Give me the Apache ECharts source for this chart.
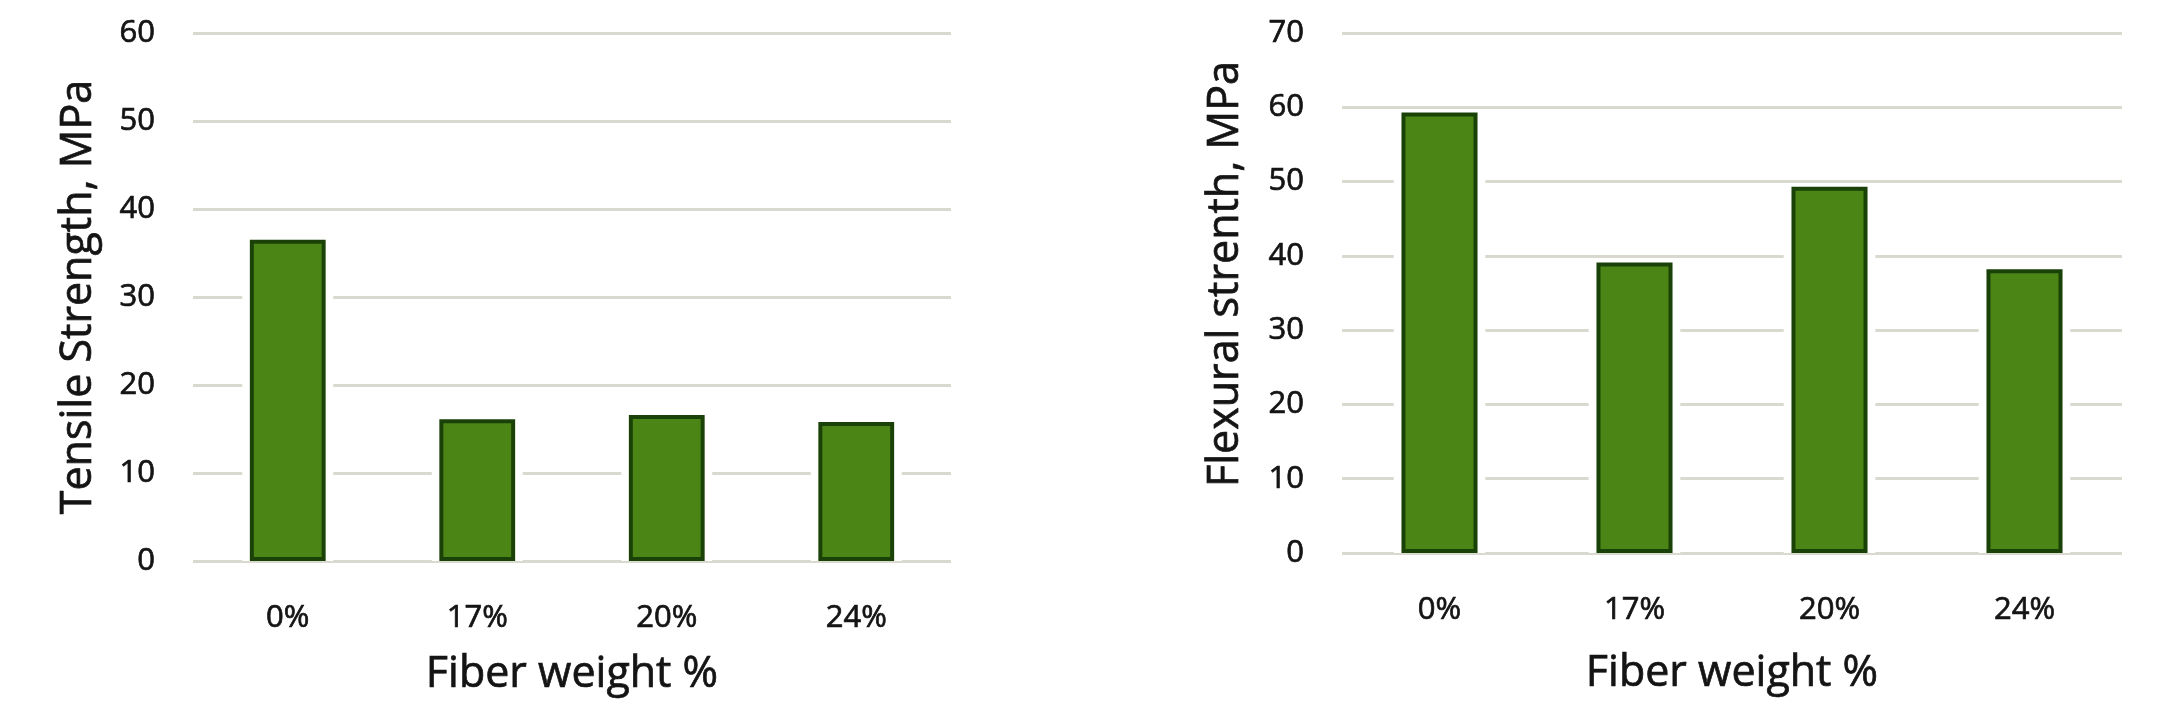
<!DOCTYPE html>
<html lang="en">
<head>
    <meta charset="UTF-8">
    <title>Fiber weight vs strength</title>
    <style>
        html,
        body,
        #chart {
            margin: 0;
            padding: 0;
            width: 100%;
            height: 100%;
            background: #fff;
        }
    </style>
</head>
<body>
    <div id="chart"></div>
    <script src="https://cdn.jsdelivr.net/npm/echarts@6/dist/echarts.min.js"></script>
    <script>
        // data
        var categories = ['0%', '17%', '20%', '24%'];
        var tensileStrength = [36.5, 16.1, 16.6, 15.8];
        var flexuralStrength = [59.3, 39.1, 49.3, 38.2];

        var font = 'Open Sans';
        var textColor = '#141414';
        var gridColor = '#d9d9d0';
        var barFill = '#4a8516';
        var barEdge = '#1a4208';

        // slightly heavier text, the original looks a bit bolder than regular
        function textStyle(size) {
            return {
                fontSize: size,
                fontFamily: font,
                color: textColor,
                textBorderColor: textColor,
                textBorderWidth: 0.7
            };
        }

        function catAxis(gridIndex, hidden) {
            return {
                type: 'category',
                gridIndex: gridIndex,
                data: categories,
                show: !hidden,
                axisLine: { show: false },
                axisTick: { show: false },
                axisLabel: Object.assign({ margin: 42 }, textStyle(31))
            };
        }

        function valAxis(gridIndex, max, name, gap, pad) {
            return {
                type: 'value',
                gridIndex: gridIndex,
                min: 0,
                max: max,
                interval: 10,
                name: name,
                nameLocation: 'middle',
                nameGap: gap,
                nameTextStyle: Object.assign({ padding: pad }, textStyle(43)),
                axisLine: { show: false },
                axisTick: { show: false },
                axisLabel: Object.assign({ margin: 38 }, textStyle(31)),
                splitLine: { lineStyle: { color: gridColor, width: 3 } }
            };
        }

        // white halo behind each bar, like the gap the gridlines leave around the bars
        function haloSeries(axisIdx, values, width) {
            return {
                type: 'bar',
                xAxisIndex: axisIdx,
                yAxisIndex: axisIdx < 2 ? 0 : 1,
                data: values,
                barWidth: width,
                silent: true,
                z: 1,
                itemStyle: { color: '#fff', borderColor: '#fff', borderWidth: 12 }
            };
        }

        function barSeries(axisIdx, values, width) {
            return {
                type: 'bar',
                xAxisIndex: axisIdx,
                yAxisIndex: axisIdx < 2 ? 0 : 1,
                data: values,
                barWidth: width,
                z: 3,
                itemStyle: { color: barFill, borderColor: barEdge, borderWidth: 4 }
            };
        }

        var myChart = echarts.init(document.getElementById('chart'));
        myChart.setOption({
            animation: false,
            grid: [
                { left: 193, right: 1214, top: 33, bottom: 154 },
                { left: 1342, right: 43, top: 33, bottom: 162 }
            ],
            xAxis: [
                Object.assign(catAxis(0, false), {
                    name: 'Fiber weight %', nameLocation: 'middle', nameGap: 92,
                    nameTextStyle: textStyle(43)
                }),
                catAxis(0, true),
                Object.assign(catAxis(1, false), {
                    name: 'Fiber weight %', nameLocation: 'middle', nameGap: 99,
                    nameTextStyle: textStyle(43)
                }),
                catAxis(1, true)
            ],
            yAxis: [
                valAxis(0, 60, 'Tensile Strength, MPa', 93, 0),
                valAxis(1, 70, 'Flexural strenth, MPa', 95, [0, 0, 0, 38])
            ],
            series: [
                haloSeries(1, tensileStrength, '48%'),
                barSeries(0, tensileStrength, '40%'),
                haloSeries(3, flexuralStrength, '47%'),
                barSeries(2, flexuralStrength, '39%')
            ]
        });

        window.addEventListener('resize', function () {
            myChart.resize();
        });
    </script>
</body>
</html>
